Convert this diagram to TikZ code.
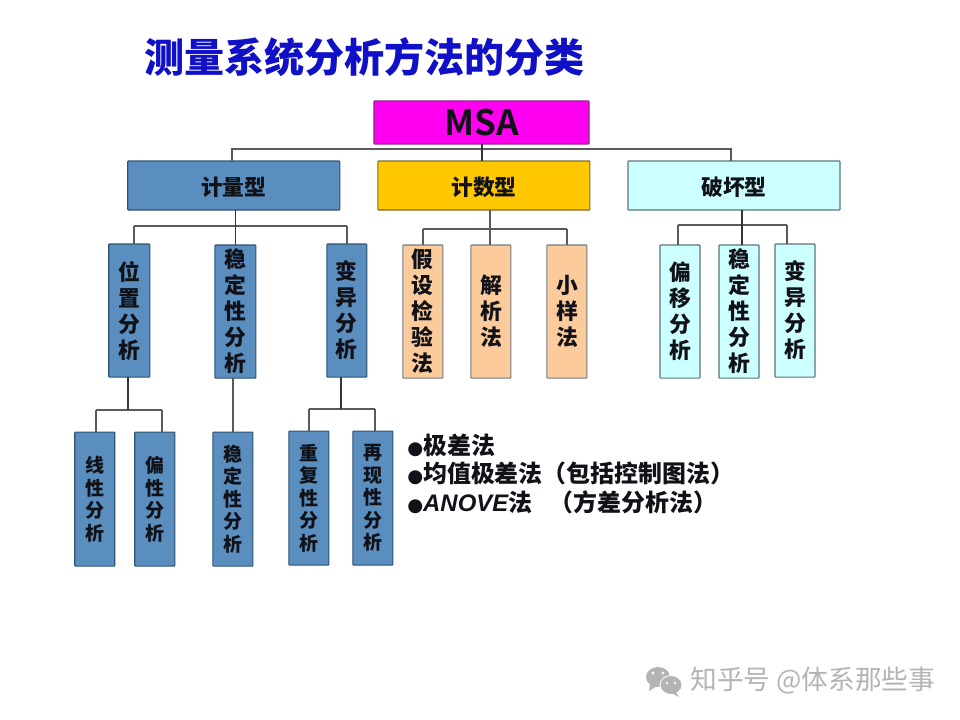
\documentclass[tikz,border=0pt]{standalone}
\usepackage{fontspec}
\usepackage{xcolor}
\usepackage{tikz}
\usetikzlibrary{positioning}
\setmainfont{Noto Sans CJK SC}[BoldFont={Noto Sans CJK SC Black}]
\newfontfamily\latinfont{Liberation Sans}
\newfontfamily\dotfont{DejaVu Sans}
\newfontfamily\msafont{Noto Sans CJK SC Bold}
\definecolor{titleblue}{HTML}{1010C8}
\definecolor{rootpink}{HTML}{FF00F0}
\definecolor{rootedge}{HTML}{8A2A8A}
\definecolor{steel}{HTML}{5A8EBF}
\definecolor{steeledge}{HTML}{2F5372}
\definecolor{gold}{HTML}{FFC800}
\definecolor{goldedge}{HTML}{7A6A30}
\definecolor{palecyan}{HTML}{CCFFFF}
\definecolor{cyanedge}{HTML}{5C7676}
\definecolor{peach}{HTML}{FBCB9C}
\definecolor{peachedge}{HTML}{6F7B84}
\definecolor{inkblack}{HTML}{111118}
\definecolor{wirecolor}{HTML}{5A5A5A}
\definecolor{markgray}{HTML}{B4B4B4}
\tikzset{
    box/.style={draw, line width=0.8pt, rounded corners=0.5pt, inner sep=0pt, outer sep=0pt,
        align=center, text=inkblack, font=\bfseries},
    typebox/.style={box, minimum width=5.3cm, minimum height=1.225cm, text height=15pt, text depth=0.5pt,
        font=\bfseries\fontsize{15.5}{18}\selectfont},
    tallbox/.style={box, minimum width=1cm, minimum height=3.325cm,
        font=\bfseries\fontsize{15.5}{18.5}\selectfont},
    lowbox/.style={box, minimum width=1cm, minimum height=3.35cm,
        font=\bfseries\fontsize{13.5}{16}\selectfont},
    blue/.style={fill=steel, draw=steeledge},
    cyan/.style={fill=palecyan, draw=cyanedge},
    wire/.style={draw=wirecolor, line width=1pt},
    trunk/.style={draw=inkblack!85, line width=1pt}
}

\begin{document}
\begin{tikzpicture}[x=0.025cm, y=-0.025cm]
    \useasboundingbox (0,0) rectangle (960,720);
    \fill[white] (0,0) rectangle (960,720);

    \node (title) [text=titleblue, font=\bfseries\fontsize{28.5}{32}\selectfont] at (364.5,57) {测量系统分析方法的分类};

    \node[box] (msa) [fill=rootpink, draw=rootedge, minimum width=5.375cm, minimum height=1.075cm,
        font=\msafont\fontsize{25}{28}\selectfont] at (481.5,122.5) {MSA};

    \node[typebox] (js) [fill=gold, draw=goldedge, below=0.425cm of msa, xshift=0.06cm] {计数型};
    \node[typebox, blue] (jl) [left=0.95cm of js] {计量型};
    \node[typebox, cyan] (ph) [right=0.95cm of js] {破坏型};

    % third row
    \node[tallbox, blue, minimum width=1.025cm] (wz) [below right=0.85cm and -0.475cm of jl.south west] {位\\置\\分\\析};
    \node[tallbox, blue, minimum width=1.025cm] (wd) [right=1.625cm of wz, yshift=-0.025cm] {稳\\定\\性\\分\\析};
    \node[tallbox, blue] (by) [right=1.775cm of wd, yshift=0.025cm] {变\\异\\分\\析};

    \node[tallbox, fill=peach, draw=peachedge] (jd) [below right=0.875cm and 0.625cm of js.south west] {假\\设\\检\\验\\法};
    \node[tallbox, fill=peach, draw=peachedge] (jx) [right=0.7cm of jd] {解\\析\\法};
    \node[tallbox, fill=peach, draw=peachedge] (xy) [right=0.9cm of jx] {小\\样\\法};

    \node[tallbox, cyan] (py) [below right=0.875cm and 0.8cm of ph.south west] {偏\\移\\分\\析};
    \node[tallbox, cyan] (wd2) [right=0.475cm of py] {稳\\定\\性\\分\\析};
    \node[tallbox, cyan] (by2) [right=0.4cm of wd2, yshift=0.025cm] {变\\异\\分\\析};

    % bottom row
    \node[lowbox, blue] (xx) [below right=1.375cm and -0.85cm of wz.south west] {线\\性\\分\\析};
    \node[lowbox, blue] (px) [right=0.5cm of xx] {偏\\性\\分\\析};
    \node[lowbox, blue] (wd3) [below right=1.35cm and -0.05cm of wd.south west] {稳\\定\\性\\分\\析};
    \node[lowbox, blue] (cf) [below right=1.35cm and -0.95cm of by.south west] {重\\复\\性\\分\\析};
    \node[lowbox, blue] (zx) [right=0.6cm of cf] {再\\现\\性\\分\\析};

    \node (notes) [anchor=north west, inner sep=0pt, align=left, text=inkblack,
        font=\bfseries\fontsize{17}{20.3}\selectfont] at (407,433.5)
        {{\dotfont\fontsize{13}{20.3}\selectfont ●}极差法\\
         {\dotfont\fontsize{13}{20.3}\selectfont ●}均值极差法（包括控制图法）\\
         {\dotfont\fontsize{13}{20.3}\selectfont ●}{\latinfont\itshape ANOVE}法\hspace{12.5pt}（方差分析法）};

    % connectors
    \coordinate (msabus) at (482,149);
    \coordinate (jlbus) at (235.5,226);
    \coordinate (jsbus) at (490,229);
    \coordinate (phbus) at (742,225);
    \coordinate (wzbus) at (128,410);
    \coordinate (bybus) at (341,409);
    \coordinate (jldrop) at (232,149);
    \coordinate (phdrop) at (731,149);
    \coordinate (wzdrop) at (134,226);
    \coordinate (bydrop) at (347,226);
    \coordinate (jddrop) at (423,229);
    \coordinate (xydrop) at (567,229);
    \coordinate (pydrop) at (678,225);
    \coordinate (bydrop2) at (787,225);
    \coordinate (xxdrop) at (96,410);
    \coordinate (pxdrop) at (162,410);
    \coordinate (cfdrop) at (309,409);
    \coordinate (zxdrop) at (375,409);

    \path[wire] (jldrop |- jl.north) -- (jldrop) -- (phdrop) -- (phdrop |- ph.north);
    \path[trunk] (msabus |- msa.south) -- (msabus) -- (msabus |- js.north);

    \path[wire] (wzdrop) -- (bydrop);
    \path[wire] (wzdrop) -- (wzdrop |- wz.north);
    \path[wire] (bydrop) -- (bydrop |- by.north);
    \path[trunk] (jlbus |- jl.south) -- (jlbus) -- (jlbus |- wd.north);

    \path[wire] (jddrop) -- (xydrop);
    \path[wire] (jddrop) -- (jddrop |- jd.north);
    \path[wire] (xydrop) -- (xydrop |- xy.north);
    \path[wire] (jsbus |- js.south) -- (jsbus |- jx.north);

    \path[wire] (pydrop) -- (bydrop2);
    \path[wire] (pydrop) -- (pydrop |- py.north);
    \path[wire] (bydrop2) -- (bydrop2 |- by2.north);
    \path[trunk] (phbus |- ph.south) -- (phbus |- wd2.north);

    \path[wire] (xxdrop) -- (pxdrop);
    \path[wire] (xxdrop) -- (xxdrop |- xx.north);
    \path[wire] (pxdrop) -- (pxdrop |- px.north);
    \path[trunk] (wzbus |- wz.south) -- (wzbus);

    \path[wire] (wd3.north) -- (wd3.north |- wd.south);

    \path[wire] (cfdrop) -- (zxdrop);
    \path[wire] (cfdrop) -- (cfdrop |- cf.north);
    \path[wire] (zxdrop) -- (zxdrop |- zx.north);
    \path[trunk] (bybus |- by.south) -- (bybus);

    % watermark
    \fill[markgray] (658,677) ellipse [x radius=12, y radius=10];
    \fill[markgray] (650,684) -- (649,691) -- (657,686) -- cycle;
    \fill[white] (653,673) circle [radius=1.6] (663,673) circle [radius=1.6];
    \filldraw[fill=markgray, draw=white, line width=0.6pt] (671,685) ellipse [x radius=11, y radius=9.5];
    \fill[markgray] (676,692) -- (679,697) -- (671,693) -- cycle;
    \fill[white] (667,683) circle [radius=1.4] (675,683) circle [radius=1.4];
    \node (mark) [anchor=west, inner sep=0pt, text=markgray, font=\fontsize{19}{22}\selectfont] at (690,681) {知乎号 @体系那些事};
\end{tikzpicture}
\end{document}
